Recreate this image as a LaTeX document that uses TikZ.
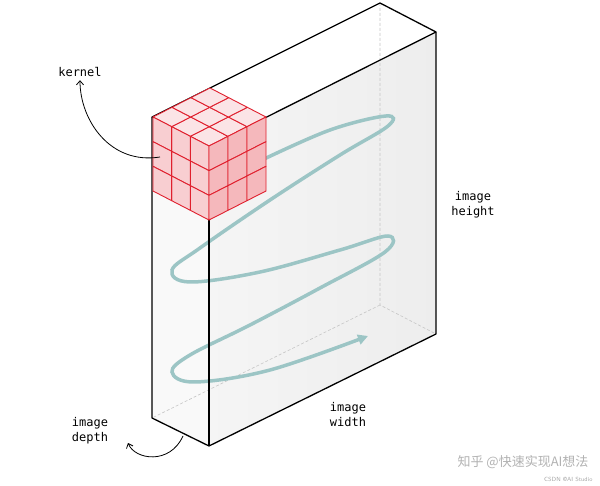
\documentclass[tikz,border=0pt]{standalone}
\usepackage{fontspec}
\setmonofont{DejaVu Sans Mono}
\newfontfamily\cjk{Noto Sans CJK SC}
\usetikzlibrary{arrows.meta,calc}
\definecolor{kred}{HTML}{E0202E}
\definecolor{teal}{HTML}{9CC5C5}
\begin{document}
\begin{tikzpicture}[x=1pt,y=-1pt,
  edge/.style={line width=1.3pt,line join=round},
  hid/.style={densely dashed,draw=gray!45,line width=0.6pt},
  lbl/.style={font=\ttfamily\fontsize{12}{15}\selectfont,align=center},
  callout/.style={line width=0.8pt,-{Straight Barb[length=4pt,width=7pt]}},
  grid/.style={draw=kred,line width=0.9pt,line join=round}]
\useasboundingbox (0,0) rectangle (600,486);
% faces
\fill[white] (152,117)--(380,3)--(436,32)--(209,146)--cycle;
\fill[gray!5] (152,117)--(209,146)--(209,446)--(152,418)--cycle;
\shade[left color=gray!8,right color=gray!14] (209,146)--(436,32)--(436,334)--(209,446)--cycle;
% hidden edges
\draw[hid] (380,3)--(380,305)--(436,334);
\draw[hid] (380,305)--(152,418);
% spiral
\draw[teal,line width=3.5pt,line cap=round,-{Triangle[length=10pt,width=10pt]}]
 plot[smooth,tension=0.6] coordinates{(262,160)(330,130)(386,116)(388,126)(340,155)(270,200)(200,248)(172,270)(190,282)(260,272)(340,250)(388,236)(385,252)(320,288)(250,325)(190,355)(172,372)(195,382)(270,370)(368,336)};
% box edges
\draw[edge] (152,117)--(380,3)--(436,32)--(436,334)--(209,446)--(152,418)--cycle;
\draw[edge] (152,117)--(209,146)--(436,32);
\draw[edge] (209,146)--(209,446);
% kernel cube
\coordinate (D) at (209,146);
\foreach \i in {0,1,2} \foreach \j in {0,1,2} {
 \filldraw[grid,fill=kred!12] ($(D)+(-18.67*\i,-9.67*\i)+(19*\j,-9.67*\j)$) -- ++(-18.67,-9.67) -- ++(19,-9.67) -- ++(18.67,9.67) -- cycle;
 \filldraw[grid,fill=kred!22] ($(D)+(-18.67*\i,-9.67*\i)+(0,24.67*\j)$) -- ++(-18.67,-9.67) -- ++(0,24.67) -- ++(18.67,9.67) -- cycle;
 \filldraw[grid,fill=kred!32] ($(D)+(19*\i,-9.67*\i)+(0,24.67*\j)$) -- ++(19,-9.67) -- ++(0,24.67) -- ++(-19,9.67) -- cycle;
}
% labels
\node[lbl] (kernel) at (80,72) {kernel};
\node[lbl] (height) at (473,205) {image\\height};
\node[lbl] (width) at (348,415) {image\\width};
\node[lbl] (depth) at (90,431) {image\\depth};
\coordinate (kc) at (160,157);
\coordinate (dc) at (183,436);
\draw[callout] (kc) .. controls (110,165) and (80,120) .. (kernel.south);
\draw[callout] (dc) .. controls (170,465) and (135,460) .. (128,443);
% watermark
\node[text=gray!60,font=\cjk\fontsize{13}{15}\selectfont,anchor=east] (wm) at (592,462) {知乎 @快速实现AI想法};
\node[text=gray!70,font=\sffamily\fontsize{6}{7}\selectfont,anchor=east] (wm2) at (596,479) {CSDN @AI Studio};
\end{tikzpicture}
\end{document}
